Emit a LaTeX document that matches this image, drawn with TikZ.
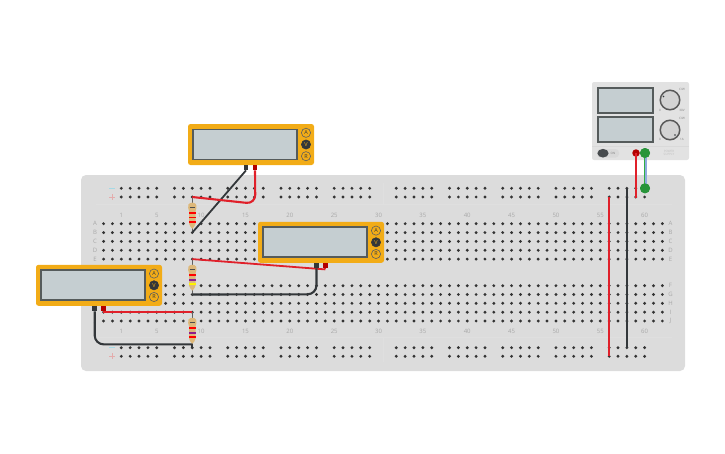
\documentclass[tikz,border=0pt]{standalone}
\usepackage{fontspec}
\setmainfont{Open Sans}
\definecolor{board}{HTML}{DCDCDC}
\definecolor{hole}{HTML}{333333}
\definecolor{lbl}{HTML}{A8A8A8}
\definecolor{amber}{HTML}{F2AC17}
\definecolor{lcd}{HTML}{C5CED1}
\definecolor{lcdedge}{HTML}{555B5B}
\definecolor{wred}{HTML}{E0202A}
\definecolor{wblack}{HTML}{33373A}
\definecolor{wgreen}{HTML}{2FAE44}
\definecolor{tan}{HTML}{DDB87A}
\definecolor{bpurple}{HTML}{8E1C8E}
\definecolor{psu}{HTML}{E2E2E2}
\pgfdeclarelayer{front}
\pgfsetlayers{main,front}
\tikzset{
  x=1pt,y=-1pt,
  holedot/.style={circle,fill=hole,inner sep=0pt,minimum size=3.2pt},
  numlbl/.style={font=\fontsize{6}{6}\selectfont,text=lbl,inner sep=0pt},
  wirer/.style={draw=wred,line width=2.1pt},
  wirek/.style={draw=wblack,line width=2.1pt},
  meterbody/.style={draw=none,fill=amber,rounded corners=2.5pt,minimum width=126pt,minimum height=41pt,inner sep=0pt},
  meterlcd/.style={draw=lcdedge,line width=1.7pt,fill=lcd,minimum width=104.5pt,minimum height=30pt,inner sep=0pt},
  psulcd/.style={draw=lcdedge,line width=2pt,fill=lcd,minimum width=55pt,minimum height=25pt,inner sep=0pt},
  mbtn/.style={circle,draw=wblack!80,line width=.6pt,minimum size=9.2pt,inner sep=0pt,text=wblack,font=\fontsize{5.5}{5.5}\selectfont},
  mbtnon/.style={circle,draw=wblack,fill=wblack,line width=.6pt,minimum size=9.2pt,inner sep=0pt,text=amber,font=\fontsize{5.5}{5.5}\selectfont},
  probek/.style={fill=wblack,draw=none,minimum width=4.6pt,minimum height=5.5pt,inner sep=0pt},
  prober/.style={fill=red!70!black,draw=none,minimum width=4.6pt,minimum height=5.5pt,inner sep=0pt},
  knob/.style={circle,draw=gray!70!black,line width=1.5pt,fill=psu!85!gray,minimum size=19.5pt,inner sep=0pt},
  tinylbl/.style={font=\fontsize{3}{3}\selectfont,text=gray,inner sep=0pt},
  bandc/.style={line width=1.9pt},
  lead/.style={draw=gray!75!black,line width=1.2pt},
  psdot/.style={circle,fill=wgreen!85!black,minimum size=10pt,inner sep=0pt},
}
\newcommand{\colx}[1]{121.3+8.87*(#1-1)}
\newcommand{\resistor}[6]{%
  \coordinate (#1a) at (192.3,#2);
  \coordinate (#1b) at (192.3,#3);
  \draw[lead] (#1a) -- (#1b);
  \fill[tan] (188.4,#2+7.5) .. controls (190,#2+5) and (194.6,#2+5) .. (196.2,#2+7.5)
     .. controls (197.4,#2+10) and (195.8,#2+12) .. (195.6,#2+14) -- (195.6,#3-9)
     .. controls (195.6,#3-6.5) and (193,#3-5.5) .. (192.3,#3-3.8)
     .. controls (191.6,#3-5.5) and (189,#3-6.5) .. (189,#3-9) -- (189,#2+14)
     .. controls (188.8,#2+12) and (187.2,#2+10) .. (188.4,#2+7.5) -- cycle;
  \draw[gray!60!black,line width=.7pt] (189.6,#2+10.5) -- (195,#2+10.5);
  \draw[bandc,#4] (189,#2+16) -- (195.6,#2+16);
  \draw[bandc,#5] (189,#2+20.5) -- (195.6,#2+20.5);
  \draw[bandc,#6] (189,#2+25) -- (195.6,#2+25);
}
\begin{document}
\begin{tikzpicture}
\useasboundingbox (0,0) rectangle (725,453);
% board
\fill[board,rounded corners=5pt] (81,175) rectangle (685,371);
\draw[gray!25,line width=.5pt] (96,204.5) -- (672,204.5);
\draw[gray!25,line width=.5pt] (96,337.5) -- (672,337.5);
\draw[gray!25,line width=.5pt] (383,183) -- (383,204);
\draw[gray!25,line width=.5pt] (383,338) -- (383,362);
% rail holes
\foreach \g in {1,7,13,19,25,32,38,44,50,56}
  \foreach \i in {0,...,4}
    \foreach \yy in {188.3,197,347.7,356.3}
      \node[holedot] at ({\colx{\g+\i}},\yy) {};
% terminal holes
\foreach \c in {-1,...,62}
  \foreach \yy in {223.7,232.6,241.4,250.3,259.1,285.7,294.5,303.3,312.2,321}
    \node[holedot] at ({\colx{\c}},\yy) {};
% rail signs
\foreach \yy in {188.3,347.7}
  \draw[blue!18!cyan!25!board,line width=1pt] (109,\yy) -- (115,\yy);
\foreach \yy in {197,356.3}
  \draw[red!22!board,line width=1pt] (109,\yy) -- (115,\yy) (112,\yy-3) -- (112,\yy+3);
% column numbers
\foreach \n in {1,5,10,15,20,25,30,35,40,45,50,55,60}{
  \node[numlbl] at ({\colx{\n}},215.5) {\n};
  \node[numlbl] at ({\colx{\n}},331) {\n};
}
% row letters
\foreach \t/\yy in {A/223.7,B/232.6,C/241.4,D/250.3,E/259.1,F/285.7,G/294.5,H/303.3,I/312.2,J/321}{
  \node[numlbl] at (95,\yy) {\t};
  \node[numlbl] at (670.5,\yy) {\t};
}
% resistors
\resistor{ra}{197}{232.6}{red}{red}{red}
\resistor{rb}{259.1}{294.5}{red}{bpurple}{yellow}
\resistor{rc}{312.2}{347.7}{red}{bpurple}{red}
% power supply
\fill[psu,rounded corners=2pt] (592,82) rectangle (689,160);
\draw[gray!30,line width=.5pt] (592,146) -- (689,146);
\node[psulcd] (lcdu) at (625,100) {};
\node[psulcd] (lcdi) at (625,129.5) {};
\node[knob] (knobu) at (670,100) {};
\node[knob] (knobi) at (670,130) {};
\fill[wblack] (663.5,96.5) circle (.8pt);
\fill[wblack] (675,135) circle (.8pt);
\node[tinylbl] at (682,89) {C/W};
\node[tinylbl] at (682,118) {C/W};
\node[tinylbl] at (660,110) {0};
\node[tinylbl] at (682,110) {30V};
\node[tinylbl] at (660,139) {0};
\node[tinylbl] at (682,139) {1A};
\fill[gray!30,rounded corners=3.5pt] (597,149) rectangle (619,157.5);
\fill[wblack!90] (603,153.2) ellipse (5.6pt and 4.3pt);
\node[tinylbl] at (613,153.2) {ON};
\node[tinylbl,text=gray!50,align=center] at (669,153) {POWER\\SUPPLY};
\node[circle,fill=red!70!black,minimum size=7.5pt,inner sep=0pt] (psred) at (636,153) {};
\node[psdot] (psgnd) at (645,153) {};
\node[psdot] (gndhole) at (645,188.3) {};
% meters
\foreach \nm/\xx/\yy in {ma/251/144.5,mb/321/242.3,mc/99/285.3}{
  \node[meterbody] (\nm) at (\xx,\yy) {};
  \node[meterlcd] at (\xx-6,\yy) {};
  \node[mbtn] at (\xx+55,\yy-11.7) {A};
  \node[mbtnon] at (\xx+55,\yy) {V};
  \node[mbtn] at (\xx+55,\yy+11.7) {R};
}
\begin{pgfonlayer}{front}
\node[probek,anchor=north] (makp) at (246,164.5) {};
\node[prober,anchor=north] (marp) at (255,164.5) {};
\node[probek,anchor=north] (mbkp) at (316.5,262.5) {};
\node[prober,anchor=north] (mbrp) at (325.3,262.5) {};
\node[probek,anchor=north] (mckp) at (94.7,305.5) {};
\node[prober,anchor=north] (mcrp) at (103.6,305.5) {};
\end{pgfonlayer}
% wire ends
\coordinate (redA) at (609,197);
\coordinate (redB) at (609,356.3);
\coordinate (blkA) at (627,188.3);
\coordinate (blkB) at (627,347.7);
\coordinate (redhole) at (636,197.5);
\coordinate (ma1) at (255.3,203.8);
\coordinate (mb1) at (325.3,269.4);
\coordinate (mb2) at (316.5,294.3);
\coordinate (mc1) at (94.7,344.4);
\coordinate (rcmid) at (192.3,344.4);
\coordinate (rcin) at (192.3,312.2);
\coordinate (mcr) at (103.6,312.2);
% wires
\draw[wirer] (redA) -- (redB);
\draw[wirek] (blkA) -- (blkB);
\draw[wirer] (psred.center) -- (redhole);
\draw[draw=cyan!45!blue!45!white,line width=3pt] ([xshift=.3pt]psgnd.center) -- ([xshift=.3pt]gndhole.center);
\draw[draw=wgreen,line width=1.7pt] ([xshift=-.6pt]psgnd.center) -- ([xshift=-.6pt]gndhole.center);
\node[psdot] at (psgnd) {};
\node[psdot] at (gndhole) {};
\draw[wirek,line width=1.8pt] (makp.south) -- (rab);
\draw[wirer,rounded corners=9pt] (raa) -- (ma1) -- (marp.south);
\draw[wirer,line width=1.8pt] (rba) -- (mb1);
\draw[wirer] (mbrp.south) -- (mb1);
\draw[wirek,rounded corners=9pt] (rbb) -- (mb2) -- (mbkp.south);
\draw[wirer] (mcrp.south) -- (mcr) -- (rcin);
\draw[wirek,rounded corners=9pt] (mckp.south) -- (mc1) -- (rcmid);
\draw[wirek] (rcmid) -- (rcb);
\end{tikzpicture}
\end{document}
